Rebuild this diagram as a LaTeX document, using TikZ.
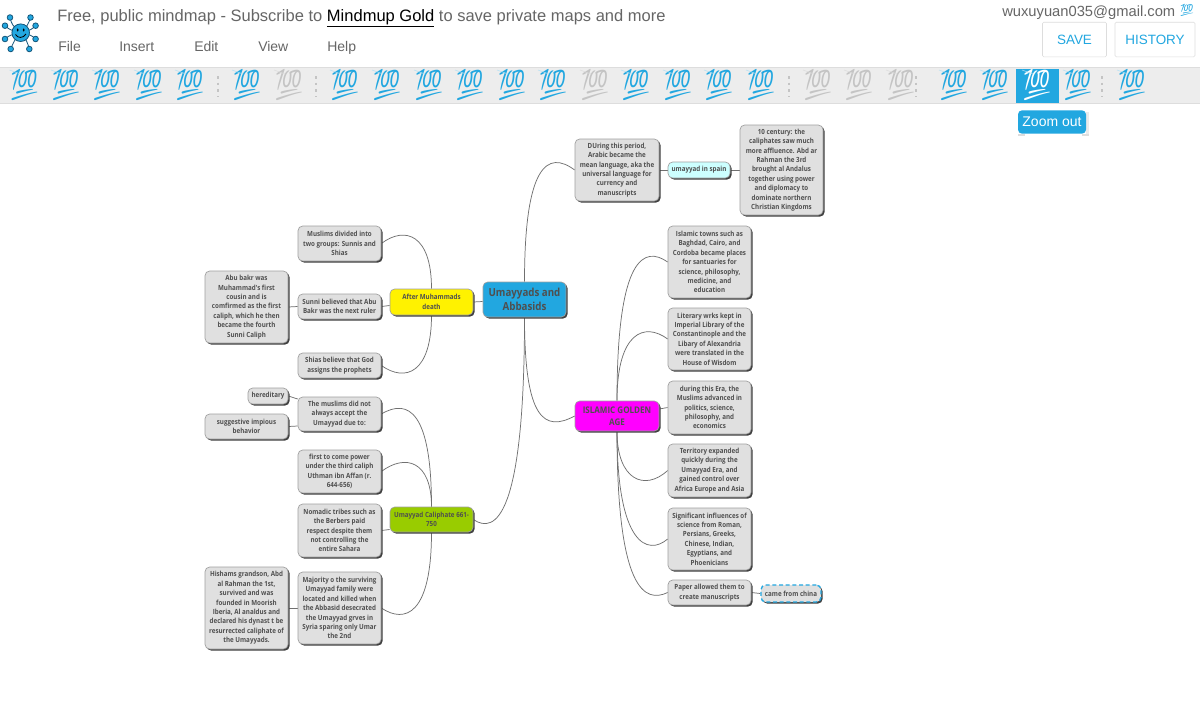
\documentclass[tikz,border=0pt]{standalone}
\usepackage{fontspec}
\setmainfont{Liberation Sans}
\newfontfamily\nodefont{Open Sans}[FakeStretch=0.88]
\newfontfamily\emojifont{Noto Emoji}
\usetikzlibrary{shadows,calc,backgrounds}
\definecolor{mmblue}{HTML}{22A7E0}
\definecolor{barbg}{HTML}{EDEDED}
\definecolor{barline}{HTML}{DDDDDD}
\definecolor{uigrey}{HTML}{666666}
\definecolor{nodegrey}{HTML}{E0E0E0}
\definecolor{nodetext}{HTML}{4F4F4F}
\definecolor{offgrey}{HTML}{C4C4C4}
\definecolor{linkgrey}{HTML}{707070}
\definecolor{hotpink}{HTML}{FF00FF}
\definecolor{iconline}{HTML}{14567A}
\tikzset{
  x=0.75pt,y=-0.75pt,
  idea/.style={draw=gray!75,line width=0.5pt,rounded corners=3.5pt,fill=nodegrey,inner sep=0pt,align=center,
    text=nodetext,font=\nodefont\bfseries\fontsize{5.3}{7.05}\selectfont,
    drop shadow={shadow xshift=1.2pt,shadow yshift=-1.2pt,fill=black!75,opacity=1}},
  link/.style={draw=linkgrey,line width=0.55pt},
  uitext/.style={text=uigrey,anchor=base west,inner sep=0pt},
  hundred/.style={text=mmblue,inner sep=0pt,font=\emojifont\fontsize{21}{21}\selectfont},
  hundredoff/.style={hundred,text=offgrey},
  sep/.style={draw=offgrey,line width=1pt,dash pattern=on 2pt off 3pt},
  btn/.style={draw=barline,line width=0.5pt,text=mmblue,rounded corners=1pt,inner sep=0pt,font=\fontsize{10.1}{13}\selectfont},
}
\newcommand{\mm}[7][]{\node[idea,#1,minimum width=(#4-#2)*0.75pt,minimum height=(#5-#3)*0.75pt] (#6) at ({(#2+#4)/2},{(#3+#5)/2}) {#7};}
\newcommand{\hundredglyph}{\scalebox{0.88}[1.1]{💯}}
\newcommand{\hh}[3][hundred]{\node[#1] (#2) at (#3,85) {\hundredglyph};}
\begin{document}
\begin{tikzpicture}
\useasboundingbox (0,0) rectangle (1200,725);
% toolbar
\fill[barbg] (0,67) rectangle (1200,103);
\draw[barline,line width=0.5pt] (0,67) -- (1200,67) (0,103) -- (1200,103);
\node[uitext,font=\fontsize{12.38}{14}\selectfont] (title) at (57,21) {Free, public mindmap - Subscribe to \textcolor{black}{\underline{Mindmup Gold}} to save private maps and more};
\begin{scope}[every node/.style={uitext,font=\fontsize{10.5}{12}\selectfont}]
\node (mfile) at (58,51.5) {File};
\node (minsert) at (119,51.5) {Insert};
\node (medit) at (194,51.5) {Edit};
\node (mview) at (258,51.5) {View};
\node (mhelp) at (327,51.5) {Help};
\end{scope}
\node[uitext,font=\fontsize{11.05}{13}\selectfont] (user) at (1002,16.5) {wuxuyuan035@gmail.com};
\node[hundred,font=\emojifont\fontsize{9}{9}\selectfont] (userico) at (1187,10) {💯};
\node[btn,minimum width=48pt,minimum height=26pt] (save) at (1074.5,39.5) {SAVE};
\node[btn,minimum width=60pt,minimum height=26pt] (history) at (1155,39.5) {HISTORY};
% icon
\coordinate (ic) at (20.7,32.7);
\foreach \px/\py/\cx/\cy in {10/17.5/12/25,30.5/17.5/28/25,5/25.7/10/30,35.6/25.7/31/30,5/39/10/35,35.6/39/31/35,10.7/49/14/41,29.3/49/27/41}{
  \draw[iconline,line width=0.6pt] (ic) .. controls (\cx,\cy) .. (\px,\py);
  \fill[mmblue,draw=iconline,line width=0.6pt] (\px,\py) circle (2.8);
}
\fill[mmblue,draw=iconline,line width=0.6pt] (ic) circle (8.8);
\fill[black] (17.7,30) ellipse (1 and 1.6) (23.7,30) ellipse (1 and 1.6);
\draw[black,line width=0.6pt] (15.5,34.5) .. controls (18,38.5) and (23,38.5) .. (26,34);
% toolbar emoji
\hh{h1}{24.5}\hh{h2}{66}\hh{h3}{107}\hh{h4}{149}\hh{h5}{190}
\hh{h6}{247}\hh[hundredoff]{h7}{289}
\hh{h8}{345}\hh{h9}{387}\hh{h10}{429}\hh{h11}{470}\hh{h12}{512}\hh{h13}{553}\hh[hundredoff]{h14}{595}
\hh{h15}{636}\hh{h16}{678}\hh{h17}{719}\hh{h18}{761}
\hh[hundredoff]{h19}{818}\hh[hundredoff]{h20}{859}\hh[hundredoff]{h21}{901}
\hh{h22}{954}\hh{h23}{995}
\fill[mmblue] (1016,69) rectangle (1059,103);
\node[hundred,text=white] (h24) at (1037,85) {\hundredglyph};
\hh{h25}{1078}\hh{h26}{1132}
\foreach \x in {24.5,66,107,149,190,247,345,387,429,470,512,553,636,678,719,761,954,995,1037,1078,1132}{\draw[mmblue!35,line width=0.4pt] (\x-15,70) -- (\x-4,74);}
\foreach \x in {289,595,818,859,901}{\draw[offgrey!60,line width=0.4pt] (\x-15,70) -- (\x-4,74);}
\foreach \x in {218,316,789,916,1102}{\draw[sep] (\x,76) -- (\x,97);}
% zoom out
\fill[barline] (1018,134) rectangle (1025,136);
\fill[barline] (1082,134) rectangle (1089,136);
\fill[barline!60] (1086,112) rectangle (1089,134);
\node[fill=mmblue,text=white,rounded corners=3pt,inner sep=0pt,minimum width=51pt,minimum height=17.5pt,font=\fontsize{10.5}{13}\selectfont] (zoomout) at (1052,122) {Zoom out};
% nodes
\mm[fill=mmblue,font=\nodefont\bfseries\fontsize{8.3}{10.4}\selectfont]{483}{282}{566}{317}{root}{Umayyads and\\Abbasids}
\mm[fill=yellow]{390}{289}{473}{315}{after}{After Muhammads\\death}
\mm{298}{226}{381}{261}{divided}{Muslims divided into\\two groups: Sunnis and\\Shias}
\mm{298}{294}{381}{319}{sunni}{Sunni believed that Abu\\Bakr was the next ruler}
\mm{205}{271}{288}{343}{abu}{Abu bakr was\\Muhammad's first\\cousin and is\\comfirmed as the first\\caliph, which he then\\became the fourth\\Sunni Caliph}
\mm{298}{353}{381}{378}{shias}{Shias believe that God\\assigns the prophets}
\mm{248}{388}{288}{404}{hered}{hereditary}
\mm{205}{414}{288}{439}{sugg}{suggestive impious\\behavior}
\mm{298}{397}{381}{431}{accept}{The muslims did not\\always accept the\\Umayyad due to:}
\mm[fill={rgb,255:red,153;green,204;blue,0}]{390}{507}{473}{532}{calif}{Umayyad Caliphate 661-\\750}
\mm{298}{450}{381}{493}{first}{first to come power\\under the third caliph\\Uthman ibn Affan (r.\\644-656)}
\mm{298}{504}{381}{557}{nomad}{Nomadic tribes such as\\the Berbers paid\\respect despite them\\not controlling the\\entire Sahara}
\mm{205}{567}{288}{649}{hisham}{Hishams grandson, Abd\\al Rahman the 1st,\\survived and was\\founded in Moorish\\Iberia, Al analdus and\\declared his dynast t be\\resurrected caliphate of\\the Umayyads.}
\mm{298}{572}{381}{644}{major}{Majority o the surviving\\Umayyad family were\\located and killed when\\the Abbasid desecrated\\the Umayyad grves in\\Syria sparing only Umar\\the 2nd}
\mm{575}{139}{659}{201}{during}{DUring this period,\\Arabic became the\\mean language, aka the\\universal language for\\currency and\\manuscripts}
\mm[fill={rgb,255:red,204;green,255;blue,255}]{668}{162}{730}{178}{spain}{umayyad in spain}
\mm{740}{125}{823}{215}{tenth}{10 century: the\\caliphates saw much\\more affluence. Abd ar\\Rahman the 3rd\\brought al Andalus\\together using power\\and diplomacy to\\dominate northern\\Christian Kingdoms}
\mm{668}{226}{751}{298}{towns}{Islamic towns such as\\Baghdad, Cairo, and\\Cordoba became places\\for santuaries for\\science, philosophy,\\medicine, and\\education}
\mm{668}{308}{751}{370}{literary}{Literary wrks kept in\\Imperial Library of the\\Constantinople and the\\Libary of Alexandria\\were translated in the\\House of Wisdom}
\mm{668}{381}{751}{434}{era}{during this Era, the\\Muslims advanced in\\politics, science,\\philosophy, and\\economics}
\mm{668}{444}{751}{497}{territory}{Territory expanded\\quickly during the\\Umayyad Era, and\\gained control over\\Africa Europe and Asia}
\mm{668}{508}{751}{570}{signif}{Significant influences of\\science from Roman,\\Persians, Greeks,\\Chinese, Indian,\\Egyptians, and\\Phoenicians}
\mm{668}{580}{751}{605}{paper}{Paper allowed them to\\create manuscripts}
\mm[fill=hotpink,font=\nodefont\bfseries\fontsize{6.85}{8.6}\selectfont]{575}{401}{659}{431}{golden}{ISLAMIC GOLDEN\\AGE}
\mm[draw=mmblue,dash pattern=on 3pt off 2pt,line width=1pt]{761}{585}{821}{602}{china}{came from china}
% connectors
\begin{pgfonlayer}{background}
\fill[white] (0,0) rectangle (1200,725);
\draw[link] (after.north) .. controls +(0,-54) and +(24,-18) .. (divided.east);
\draw[link] (after.south) .. controls +(0,58) and +(24,17) .. (shias.east);
\draw[link] (after.east) -- ($(root.west)+(0,2)$);
\draw[link] (sunni.east) -- ($(after.west)+(0,3.5)$);
\draw[link] (abu.east) -- (sunni.west);
\draw[link] (hered.east) -- ($(accept.west)+(0,-15)$);
\draw[link] (sugg.east) -- ($(accept.west)+(0,12)$);
\draw[link] (calif.north) .. controls +(0,-95) and +(27,-16) .. (accept.east);
\draw[link] (calif.north) .. controls +(0,-46) and +(24,-18) .. (first.east);
\draw[link] (nomad.east) -- ($(calif.west)+(0,10)$);
\draw[link] (calif.south) .. controls +(0,82) and +(24,16) .. (major.east);
\draw[link] (hisham.east) -- (major.west);
\draw[link] (root.north) .. controls +(0,-117) and +(-27,-20) .. (during.west);
\draw[link] (root.south) .. controls +(0,103) and +(-30,16) .. (golden.west);
\draw[link] (root.south) .. controls +(0,200) and +(22,15) .. (calif.east);
\draw[link] (during.east) -- (spain.west);
\draw[link] (spain.east) -- (tenth.west);
\draw[link] (golden.north) .. controls +(0,-146) and +(-23,-16) .. (towns.west);
\draw[link] (golden.north) .. controls +(0,-69) and +(-23,-17) .. (literary.west);
\draw[link] ($(golden.east)+(0,-7)$) -- (era.west);
\draw[link] (golden.south) .. controls +(0,49) and +(-23,21) .. (territory.west);
\draw[link] (golden.south) .. controls +(0,114) and +(-20,17) .. (signif.west);
\draw[link] (golden.south) .. controls +(0,159) and +(-23,11) .. (paper.west);
\draw[link] (paper.east) -- (china.west);
\end{pgfonlayer}
\end{tikzpicture}
\end{document}
